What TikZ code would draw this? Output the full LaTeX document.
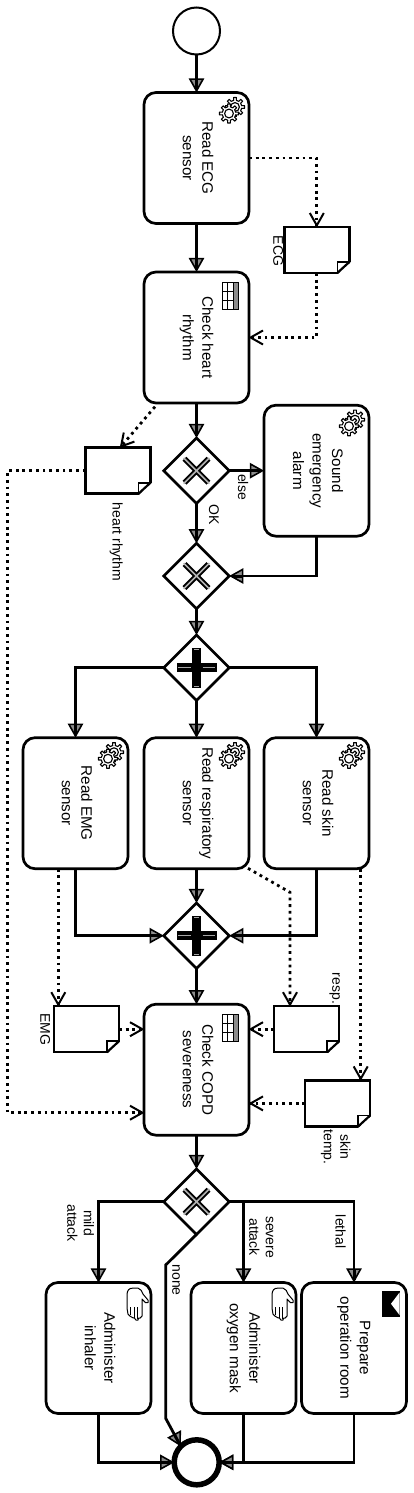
\documentclass[tikz,border=0pt]{standalone}
\usepackage{fontspec}
\usepackage{graphicx}
\setmainfont{Liberation Sans}
\usetikzlibrary{arrows.meta,shapes.geometric,calc}
\pgfdeclarearrow{
  name=SeqTip,
  setup code={
    \pgfarrowssettipend{0pt}
    \pgfarrowssetbackend{-14pt}
    \pgfarrowssetvisualbackend{-14pt}
    \pgfarrowssetlineend{-12pt}
  },
  drawing code={
    \pgfsetdash{}{0pt}
    \pgfsetmiterjoin
    \pgfsetlinewidth{1.6pt}
    \pgfsetfillcolor{black!45}
    \pgfpathmoveto{\pgfqpoint{-1.6pt}{0pt}}
    \pgfpathlineto{\pgfqpoint{-13.4pt}{6.6pt}}
    \pgfpathlineto{\pgfqpoint{-13.4pt}{-6.6pt}}
    \pgfpathclose
    \pgfusepathqfillstroke
    \pgfsetlinewidth{3pt}
    \pgfpathmoveto{\pgfqpoint{-13.4pt}{0pt}}
    \pgfpathlineto{\pgfqpoint{-3pt}{0pt}}
    \pgfusepathqstroke
  }
}
\pgfdeclarearrow{
  name=OpenTip,
  setup code={
    \pgfarrowssettipend{0pt}
    \pgfarrowssetbackend{-14pt}
    \pgfarrowssetvisualbackend{-14pt}
    \pgfarrowssetlineend{-1pt}
  },
  drawing code={
    \pgfsetdash{}{0pt}
    \pgfsetmiterjoin
    \pgfsetlinewidth{2pt}
    \pgfpathmoveto{\pgfqpoint{-14pt}{7pt}}
    \pgfpathlineto{\pgfqpoint{-1.6pt}{0pt}}
    \pgfpathlineto{\pgfqpoint{-14pt}{-7pt}}
    \pgfusepathqstroke
  }
}
\newcommand{\rt}[1]{\rotatebox{-90}{\renewcommand{\arraystretch}{1}\begin{tabular}{@{}c@{}}#1\end{tabular}}}
\tikzset{
  x=1pt,y=-1pt,
  taskbox/.style={draw,rounded corners=12pt,line width=2.7pt,minimum width=105pt,minimum height=131pt,inner sep=0pt,outer sep=0pt,font=\fontsize{15.2}{19.5}\selectfont},
  docbox/.style={draw,line width=2.5pt,minimum width=65pt,minimum height=46pt,inner sep=0pt,outer sep=0pt},
  gate/.style={draw,diamond,aspect=1,line width=2.7pt,minimum width=65.5pt,minimum height=65.5pt,inner sep=0pt,outer sep=0pt},
  lbl/.style={inner sep=0pt,outer sep=0pt,font=\fontsize{14}{16.5}\selectfont},
  seqflow/.style={line width=2.8pt,-SeqTip},
  assoc/.style={line width=2.8pt,dash pattern=on 2.8pt off 3.9pt,-OpenTip},
  pics/gearicon/.style={code={
    \foreach \cx/\cy in {6/-6.5,0/0}{
      \begin{scope}[shift={(\cx,\cy)}]
      \draw[line width=1.1pt,fill=white,line join=round]
        (-11:6.8) \foreach \a in {0,45,...,315}{ -- ({\a-11}:6.8) -- ({\a-8}:9.6) -- ({\a+8}:9.6) -- ({\a+11}:6.8) -- ({\a+34}:6.8)} -- cycle;
      \draw[line width=1.1pt,fill=white] (0,0) circle (4.4);
      \end{scope}
    }
  }},
  pics/tableicon/.style={code={
    \fill[black!45] (11,0) rectangle (16.5,26.5);
    \draw[line width=1pt] (0,0) rectangle (16.5,26.5);
    \draw[line width=1pt] (5.5,0) -- (5.5,26.5) (11,0) -- (11,26.5) (0,9) -- (11,9) (0,18) -- (11,18);
  }},
  pics/handicon/.style={code={
    \draw[line width=1pt,fill=white,line join=round]
      (0,20) -- (0,7) .. controls (0,2) and (2,0) .. (6,0) -- (11,0) .. controls (14,1) and (15,3) .. (16,6)
      -- (21,12) -- (21,14.5) -- (18.5,14.5) -- (15,11) -- (15,28) -- (13,30) -- (11.5,30) -- (11,32) -- (9,32) -- (7.5,30) -- (5.5,29.5) -- (3,28) -- (1,26) -- cycle;
    \draw[line width=1pt] (3.5,19) -- (3.5,27) (7,19) -- (7,30) (10.5,19) -- (10.5,31);
  }},
  pics/mailicon/.style={code={
    \fill[black] (0,0) rectangle (17.5,25.5);
    \fill[white] (17.5,1.5) -- (9,12.8) -- (17.5,24) -- cycle;
  }}
}
\newcommand{\docfold}[1]{%
  \fill[white] ($(#1.south east)+(-12,1.6)$) -- ($(#1.south east)+(1.6,1.6)$) -- ($(#1.south east)+(1.6,-11)$) -- cycle;
  \draw[line width=2.2pt,line join=miter] ($(#1.south east)+(0,-11)$) -- ($(#1.south east)+(-12,0)$);
  \draw[line width=1.6pt] ($(#1.south east)+(0,-11)$) -- ($(#1.south east)+(-12,-11)$) -- ($(#1.south east)+(-12,0)$);
}
\newcommand{\xmark}[1]{%
  \draw[line width=5.4pt] ($(#1)+(-12,-12)$) -- ($(#1)+(12,12)$) ($(#1)+(12,-12)$) -- ($(#1)+(-12,12)$);
  \draw[line width=1.5pt,white!70!black] ($(#1)+(-12.8,-12.8)$) -- ($(#1)+(12.8,12.8)$) ($(#1)+(12.8,-12.8)$) -- ($(#1)+(-12.8,12.8)$);
}
\newcommand{\plusmark}[1]{%
  \fill ($(#1)+(-4.2,-20)$) rectangle ($(#1)+(4.2,20)$);
  \fill ($(#1)+(-20,-4.4)$) rectangle ($(#1)+(20,4.4)$);
  \draw[line width=1pt,white!65!black] ($(#1)+(-18.8,0)$) -- ($(#1)+(-6,0)$) ($(#1)+(6,0)$) -- ($(#1)+(18.8,0)$);
  \draw[line width=.8pt,white!65!black] ($(#1)+(-2.4,-18.8)$) -- ($(#1)+(2.4,-18.8)$) ($(#1)+(-2.4,18.8)$) -- ($(#1)+(2.4,18.8)$);
}
\begin{document}
\begin{tikzpicture}
\useasboundingbox (0,0) rectangle (414,1493);
% events
\node[circle,draw,line width=2pt,minimum size=47pt,inner sep=0pt,outer sep=0pt] (start) at (196.5,31) {};
\node[circle,draw,line width=5.5pt,minimum size=45pt,inner sep=0pt,outer sep=0pt] (endev) at (196.7,1462.3) {};
% tasks
\node[taskbox] (readecg) at (196.5,158) {\rt{Read ECG\\sensor}};
\node[taskbox] (check) at (196.5,337.5) {\rt{Check heart\\rhythm}};
\node[taskbox] (sound) at (316.5,470.7) {\rt{Sound\\emergency\\alarm}};
\node[taskbox] (emg) at (75.5,803.2) {\rt{Read EMG\\sensor}};
\node[taskbox] (resp) at (196.5,803.2) {\rt{Read respiratory\\sensor}};
\node[taskbox] (skin) at (316.5,803.2) {\rt{Read skin\\sensor}};
\node[taskbox] (copd) at (196.5,1069.7) {\rt{Check COPD\\severeness}};
\node[taskbox] (inh) at (98.5,1348) {\rt{Administer\\inhaler}};
\node[taskbox] (oxy) at (243.5,1348) {\rt{Administer\\oxygen mask}};
\node[taskbox] (prep) at (354,1348) {\rt{Prepare\\operation room}};
% gateways
\node[gate] (gwa) at (196.5,470.7) {};
\node[gate] (gwb) at (196.5,576) {};
\node[gate] (gwc) at (196.5,667.7) {};
\node[gate] (gwd) at (196.5,935.7) {};
\node[gate] (gwe) at (196.5,1201.7) {};
\xmark{gwa}\xmark{gwb}\xmark{gwe}
\plusmark{gwc}\plusmark{gwd}
% data objects
\node[docbox] (ecgdoc) at (316.8,250) {};
\node[docbox] (hrdoc) at (118,470.7) {};
\node[docbox] (emgdoc) at (86.5,1029.2) {};
\node[docbox] (respdoc) at (306.7,1029.2) {};
\node[docbox] (skindoc) at (337.7,1103.4) {};
\docfold{ecgdoc}\docfold{hrdoc}\docfold{emgdoc}\docfold{respdoc}\docfold{skindoc}
% icons
\pic at ($(readecg.north east)+(-20,21)$) {gearicon};
\pic at ($(sound.north east)+(-20,21)$) {gearicon};
\pic at ($(emg.north east)+(-20,21)$) {gearicon};
\pic at ($(resp.north east)+(-20,21)$) {gearicon};
\pic at ($(skin.north east)+(-20,21)$) {gearicon};
\pic at ($(check.north east)+(-27,10.7)$) {tableicon};
\pic at ($(copd.north east)+(-27,10.7)$) {tableicon};
\pic at ($(inh.north east)+(-24,5.6)$) {handicon};
\pic at ($(oxy.north east)+(-24,5.6)$) {handicon};
\pic at ($(prep.north east)+(-24.5,8.5)$) {mailicon};
% labels
\node[lbl] (lecg) at (276.7,251) {\rt{ECG}};
\node[lbl] (lhr) at (116,542) {\rt{heart rhythm}};
\node[lbl] (lelse) at (241.5,487) {\rt{else}};
\node[lbl] (lok) at (212.5,515) {\rt{OK}};
\node[lbl] (lemg) at (43.7,1029.3) {\rt{EMG}};
\node[lbl] (lresp) at (335.7,988.5) {\rt{resp.}};
\node[lbl] (lskin) at (335.5,1147) {\rt{skin\\temp.}};
\node[lbl] (lmild) at (79,1223) {\rt{mild\\attack}};
\node[lbl] (lsev) at (261,1237) {\rt{severe\\attack}};
\node[lbl] (lleth) at (339,1231.7) {\rt{lethal}};
\node[lbl] (lnone) at (175.7,1280) {\rt{none}};
% free ends
\coordinate (hrout) at (155,406.7);
\coordinate (hrin) at (120,447.7);
\coordinate (hrb) at (7.5,470.7);
\coordinate (hrc) at (7.5,1112.7);
\coordinate (hrd) at (144,1112.7);
\coordinate (emga) at (58.3,868.7);
\coordinate (emgb) at (58.3,1006.2);
\coordinate (respa) at (248,868.3);
\coordinate (respb) at (290,892.3);
\coordinate (respc) at (290,1006.2);
\coordinate (skina) at (360.7,868.7);
\coordinate (skinb) at (360.7,1080.4);
\coordinate (nonea) at (165.7,1265);
\coordinate (noneb) at (165.7,1418.3);
% sequence flows
\draw[seqflow] (start.south) -- (readecg.north);
\draw[seqflow] (readecg.south) -- (check.north);
\draw[seqflow] (check.south) -- (gwa.north);
\draw[seqflow] (gwa.south) -- (gwb.north);
\draw[seqflow] (gwa.east) -- (sound.west);
\draw[seqflow] (sound.south) |- (gwb.east);
\draw[seqflow] (gwb.south) -- (gwc.north);
\draw[seqflow] (gwc.west) -| (emg.north);
\draw[seqflow] (gwc.south) -- (resp.north);
\draw[seqflow] (gwc.east) -| (skin.north);
\draw[seqflow] (emg.south) |- (gwd.west);
\draw[seqflow] (resp.south) -- (gwd.north);
\draw[seqflow] (skin.south) |- (gwd.east);
\draw[seqflow] (gwd.south) -- (copd.north);
\draw[seqflow] (copd.south) -- (gwe.north);
\draw[seqflow] (gwe.west) -| (inh.north);
\draw[seqflow] (gwe.east) -| (oxy.north);
\draw[seqflow] (gwe.east) -| (prep.north);
\draw[seqflow] (gwe.south) -- (nonea) -- (noneb) -- (endev.north west);
\draw[seqflow] (inh.south) |- (endev.west);
\draw[seqflow] (oxy.south) |- (endev.east);
\draw[seqflow] (prep.south) |- (endev.east);
% associations
\draw[assoc] (readecg.east) -| (ecgdoc.north);
\draw[assoc] (ecgdoc.south) |- (check.east);
\draw[assoc] (hrout) -- (hrin);
\draw[assoc] (hrdoc.west) -- (hrb) -- (hrc) -- (hrd);
\draw[assoc] (emga) -- (emgb);
\draw[assoc] (emgdoc.east) -- (emgdoc.east -| copd.west);
\draw[assoc] (respa) -- (respb) -- (respc);
\draw[assoc] (respdoc.west) -- (respdoc.west -| copd.east);
\draw[assoc] (skina) -- (skinb);
\draw[assoc] (skindoc.west) -- (skindoc.west -| copd.east);
\end{tikzpicture}
\end{document}
